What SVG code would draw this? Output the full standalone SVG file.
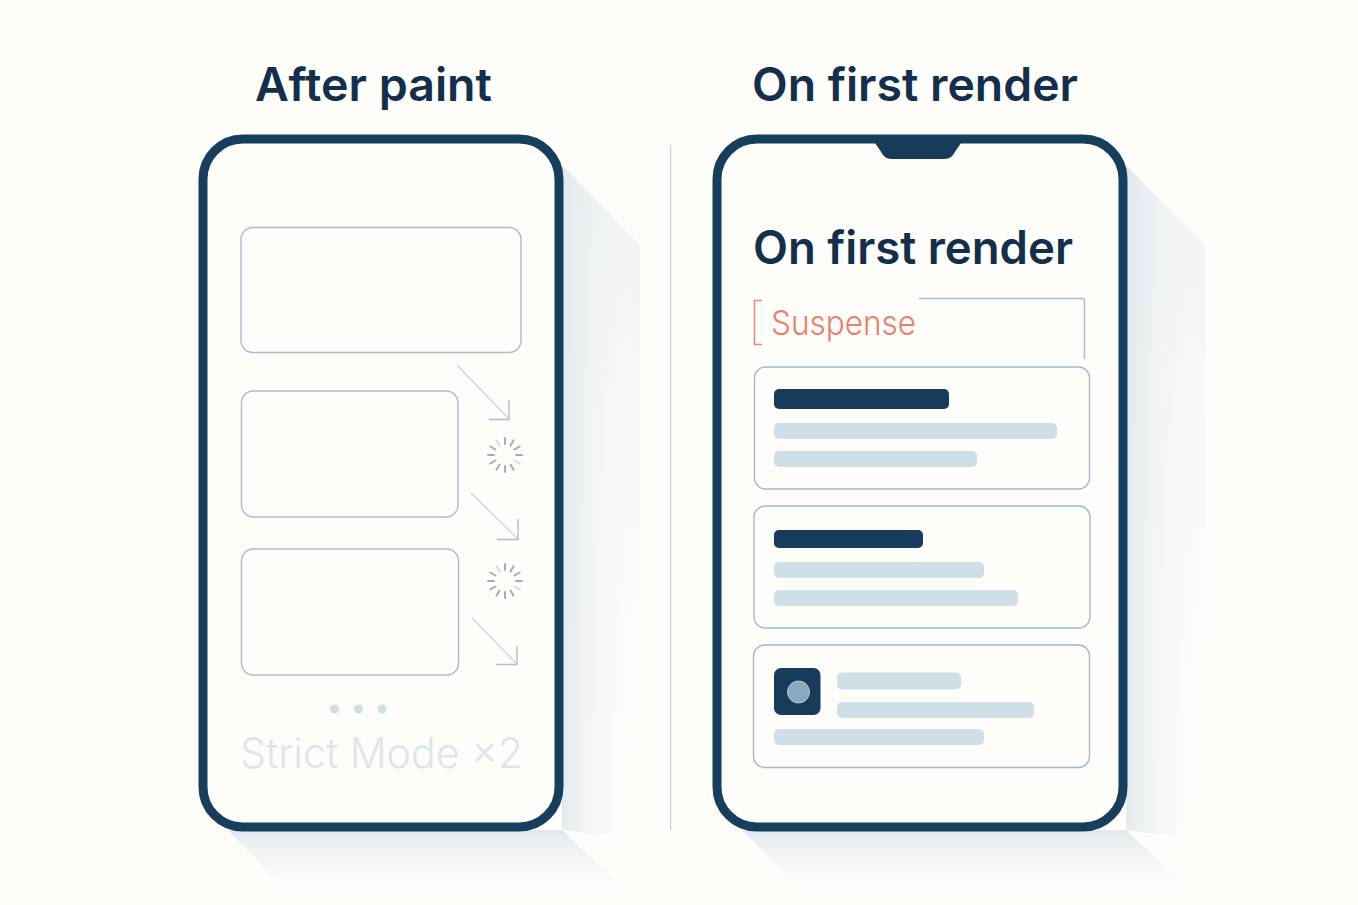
<svg xmlns="http://www.w3.org/2000/svg" width="1358" height="905" viewBox="0 0 1358 905">
<style>
text{font-family:"Inter","Liberation Sans",sans-serif}
.title{font-size:46px;font-weight:600;fill:#12304d}
.phone{fill:#fefdfa;stroke:#173e5c;stroke-width:9}
.box{fill:#fefdfa;stroke:#a3bdd3;stroke-width:1.4}
.card{fill:#fefdfa;stroke:#9db9cf;stroke-width:1.3}
.dark{fill:#173b5a}
.light{fill:#cfdfe6}
.arrow{fill:none;stroke:#a9c1d3;stroke-width:1.4}
.shaft{fill:none;stroke:#cdd3d6;stroke-width:1.3}
.tick{stroke:#a9acac;stroke-width:2;stroke-linecap:round}
.tickl{stroke:#d6d8d8;stroke-width:2;stroke-linecap:round}
</style>
<defs>
<linearGradient id="shr" x1="0" y1="0" x2="1" y2="0"><stop offset="0" stop-color="#dfe7ec" stop-opacity=".85"/><stop offset="1" stop-color="#fefdfa" stop-opacity="0"/></linearGradient>
<linearGradient id="shb" x1="0" y1="0" x2="0" y2="1"><stop offset="0" stop-color="#dfe7ec" stop-opacity=".95"/><stop offset="1" stop-color="#fefdfa" stop-opacity="0"/></linearGradient>
<g id="spin">
<line class="tick" x1="0" y1="-17" x2="0" y2="-11"/>
<line class="tick" transform="rotate(30)" x1="0" y1="-17" x2="0" y2="-11"/>
<line class="tick" transform="rotate(60)" x1="0" y1="-17" x2="0" y2="-11"/>
<line class="tick" transform="rotate(90)" x1="0" y1="-17" x2="0" y2="-11"/>
<line class="tickl" transform="rotate(120)" x1="0" y1="-17" x2="0" y2="-11"/>
<line class="tick" transform="rotate(150)" x1="0" y1="-17" x2="0" y2="-11"/>
<line class="tick" transform="rotate(180)" x1="0" y1="-17" x2="0" y2="-11"/>
<line class="tick" transform="rotate(210)" x1="0" y1="-17" x2="0" y2="-11"/>
<line class="tick" transform="rotate(240)" x1="0" y1="-17" x2="0" y2="-11"/>
<line class="tick" transform="rotate(270)" x1="0" y1="-17" x2="0" y2="-11"/>
<line class="tick" transform="rotate(300)" x1="0" y1="-17" x2="0" y2="-11"/>
<line class="tickl" transform="rotate(330)" x1="0" y1="-17" x2="0" y2="-11"/>
</g>
</defs>
<rect width="1358" height="905" fill="#fefdfa"/>
<g id="shadows">
<polygon points="562,165 640,245 640,905 300,905 228,830 562,830" fill="url(#shb)" opacity=".55"/>
<polygon points="562,165 640,245 640,840 562,830" fill="url(#shr)"/>
<polygon points="228,830 562,830 640,905 300,905" fill="url(#shb)"/>
<polygon points="1126,165 1205,245 1205,905 815,905 742,830 1126,830" fill="url(#shb)" opacity=".55"/>
<polygon points="1126,165 1205,245 1205,840 1126,830" fill="url(#shr)"/>
<polygon points="742,830 1126,830 1205,905 815,905" fill="url(#shb)"/>
</g>
<g id="divider"><line x1="670.5" y1="145" x2="670.5" y2="830" stroke="#c8d2d6" stroke-width="1.2"/></g>
<g id="after-paint">
<text class="title" x="255" y="101" textLength="237" lengthAdjust="spacingAndGlyphs">After paint</text>
<rect class="phone" x="203" y="139" width="356" height="688" rx="40"/>
<rect class="box" x="241" y="227.500" width="280" height="125" rx="12"/>
<rect class="box" x="241.500" y="391" width="216.500" height="126" rx="12"/>
<rect class="box" x="241.500" y="549" width="217" height="126" rx="12"/>
<use href="#spin" x="505" y="455"/>
<use href="#spin" x="505" y="581"/>
<circle cx="334.500" cy="709" r="4.500" class="light"/>
<circle cx="358.500" cy="709" r="4.500" class="light"/>
<circle cx="382" cy="709" r="4.500" class="light"/>
<text x="240" y="768" font-size="42" font-weight="300" fill="#dbe5ea" textLength="283" lengthAdjust="spacingAndGlyphs">Strict Mode ×2</text>
</g>
<g id="connectors">
<path class="shaft" d="M457 365L509 419"/><path class="arrow" d="M509 400V419.500H489"/>
<path class="shaft" d="M471 493L518 539"/><path class="arrow" d="M518 519V539.500H497"/>
<path class="shaft" d="M472 618L517 664"/><path class="arrow" d="M517 646V664.500H496"/>
</g>
<g id="on-first-render">
<text class="title" x="752" y="101" textLength="326" lengthAdjust="spacingAndGlyphs">On first render</text>
<rect class="phone" x="717" y="139" width="406" height="688" rx="40"/>
<path class="dark" d="M875 143H961Q956 150 953 155Q950 159 944 159H892Q886 159 883 155Q880 150 875 143Z"/>
<text class="title" x="753" y="264" textLength="320" lengthAdjust="spacingAndGlyphs">On first render</text>
<path d="M762 300.500H754.500V344.500H762" fill="none" stroke="#e88a74" stroke-width="1.5"/>
<text x="771" y="335" font-size="34" font-weight="300" fill="#e8806a" textLength="145" lengthAdjust="spacingAndGlyphs">Suspense</text>
<path d="M919 298.500H1082Q1084.500 298.500 1084.500 301V359" fill="none" stroke="#a3bdd3" stroke-width="1.4"/>
<rect class="card" x="754.500" y="367" width="335" height="122" rx="11"/>
<rect class="dark" x="774" y="389" width="175" height="20" rx="5"/>
<rect class="light" x="774" y="423" width="283" height="16" rx="5"/>
<rect class="light" x="774" y="451" width="203" height="16" rx="5"/>
<rect class="card" x="754" y="506" width="336" height="122" rx="11"/>
<rect class="dark" x="774" y="530" width="149" height="18" rx="5"/>
<rect class="light" x="774" y="562" width="210" height="16" rx="5"/>
<rect class="light" x="774" y="590" width="244" height="16" rx="5"/>
<rect class="card" x="753.500" y="645" width="336" height="122.500" rx="11"/>
<rect class="dark" x="774" y="668" width="46.500" height="47" rx="7"/>
<circle cx="798.500" cy="692" r="11" fill="#8aa9c1" stroke="#b5cbda" stroke-width="1"/>
<rect class="light" x="837" y="672.500" width="124" height="17" rx="5"/>
<rect class="light" x="837" y="702" width="197" height="16" rx="5"/>
<rect class="light" x="774" y="729" width="210" height="16" rx="5"/>
</g>
</svg>
